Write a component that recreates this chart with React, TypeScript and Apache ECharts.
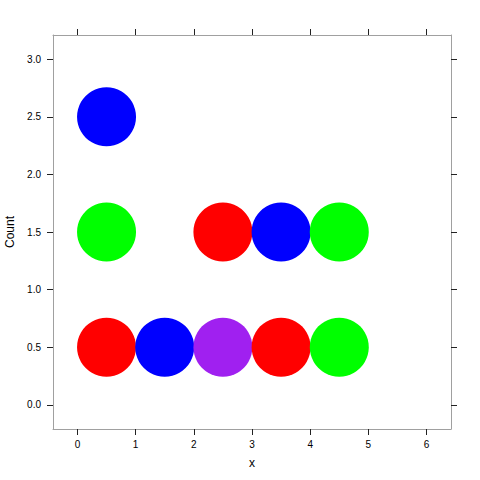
import React, { useEffect, useRef } from "react";
import * as echarts from "echarts";

const xValues = [0.5, 1.5, 2.5, 3.5, 4.5, 0.5, 2.5, 3.5, 4.5, 0.5];
const yValues = [0.5, 0.5, 0.5, 0.5, 0.5, 1.5, 1.5, 1.5, 1.5, 2.5];
const pointColors = [
  "#FF0000", "#0000FF", "#A020F0", "#FF0000", "#00FF00",
  "#00FF00", "#FF0000", "#0000FF", "#00FF00", "#0000FF",
];
const xTicks = [0, 1, 2, 3, 4, 5, 6];
const yTicks = [0, 0.5, 1, 1.5, 2, 2.5, 3];

export default function App() {
  const ref = useRef<HTMLDivElement>(null);
  useEffect(() => {
    const chart = echarts.init(ref.current!, null, { renderer: "svg" });
    const lineColor = "#a0a0a0";
    const tickStyle = { show: true, inside: false, length: 6, lineStyle: { color: "#222", width: 1 } };
    const font = "Liberation Sans, Arial, sans-serif";
    const xBase = {
      type: "value" as const,
      min: -0.42,
      max: 6.42,
      splitLine: { show: false },
      axisLine: { show: true, onZero: false, lineStyle: { color: lineColor, width: 1 } },
    };
    const yBase = {
      type: "value" as const,
      min: -0.21,
      max: 3.21,
      splitLine: { show: false },
      axisLine: { show: true, onZero: false, lineStyle: { color: lineColor, width: 1 } },
    };
    chart.setOption({
      animation: false,
      backgroundColor: "#ffffff",
      grid: { left: 53, top: 35, right: 29, bottom: 51, containLabel: false, outerBoundsMode: "none" },
      xAxis: [
        {
          ...xBase,
          position: "bottom",
          name: "x",
          nameLocation: "middle",
          nameGap: 28,
          nameTextStyle: { color: "#000", fontSize: 12, fontFamily: font },
          axisTick: { ...tickStyle, customValues: xTicks },
          axisLabel: {
            customValues: xTicks,
            formatter: (v: number) => String(v),
            color: "#000",
            fontSize: 10,
            fontFamily: font,
            margin: 10,
          },
        },
        {
          ...xBase,
          position: "top",
          axisTick: { ...tickStyle, customValues: xTicks },
          axisLabel: { show: false },
        },
      ],
      yAxis: [
        {
          ...yBase,
          position: "left",
          name: "Count",
          nameLocation: "middle",
          nameGap: 37,
          nameRotate: 90,
          nameTextStyle: { color: "#000", fontSize: 12, fontFamily: font },
          axisTick: { ...tickStyle, customValues: yTicks },
          axisLabel: {
            customValues: yTicks,
            formatter: (v: number) => v.toFixed(1),
            color: "#000",
            fontSize: 10,
            fontFamily: font,
            margin: 12,
          },
        },
        {
          ...yBase,
          position: "right",
          axisTick: { ...tickStyle, customValues: yTicks },
          axisLabel: { show: false },
        },
      ],
      series: [
        {
          type: "scatter",
          xAxisIndex: 0,
          yAxisIndex: 0,
          symbol: "circle",
          symbolSize: 59,
          data: xValues.map((x, i) => ({
            value: [x, yValues[i]],
            itemStyle: { color: pointColors[i], opacity: 1 },
          })),
        },
      ],
    });
    return () => chart.dispose();
  }, []);
  return <div ref={ref} style={{ width: 480, height: 480, position: "absolute", left: 0, top: 0 }} />;
}
